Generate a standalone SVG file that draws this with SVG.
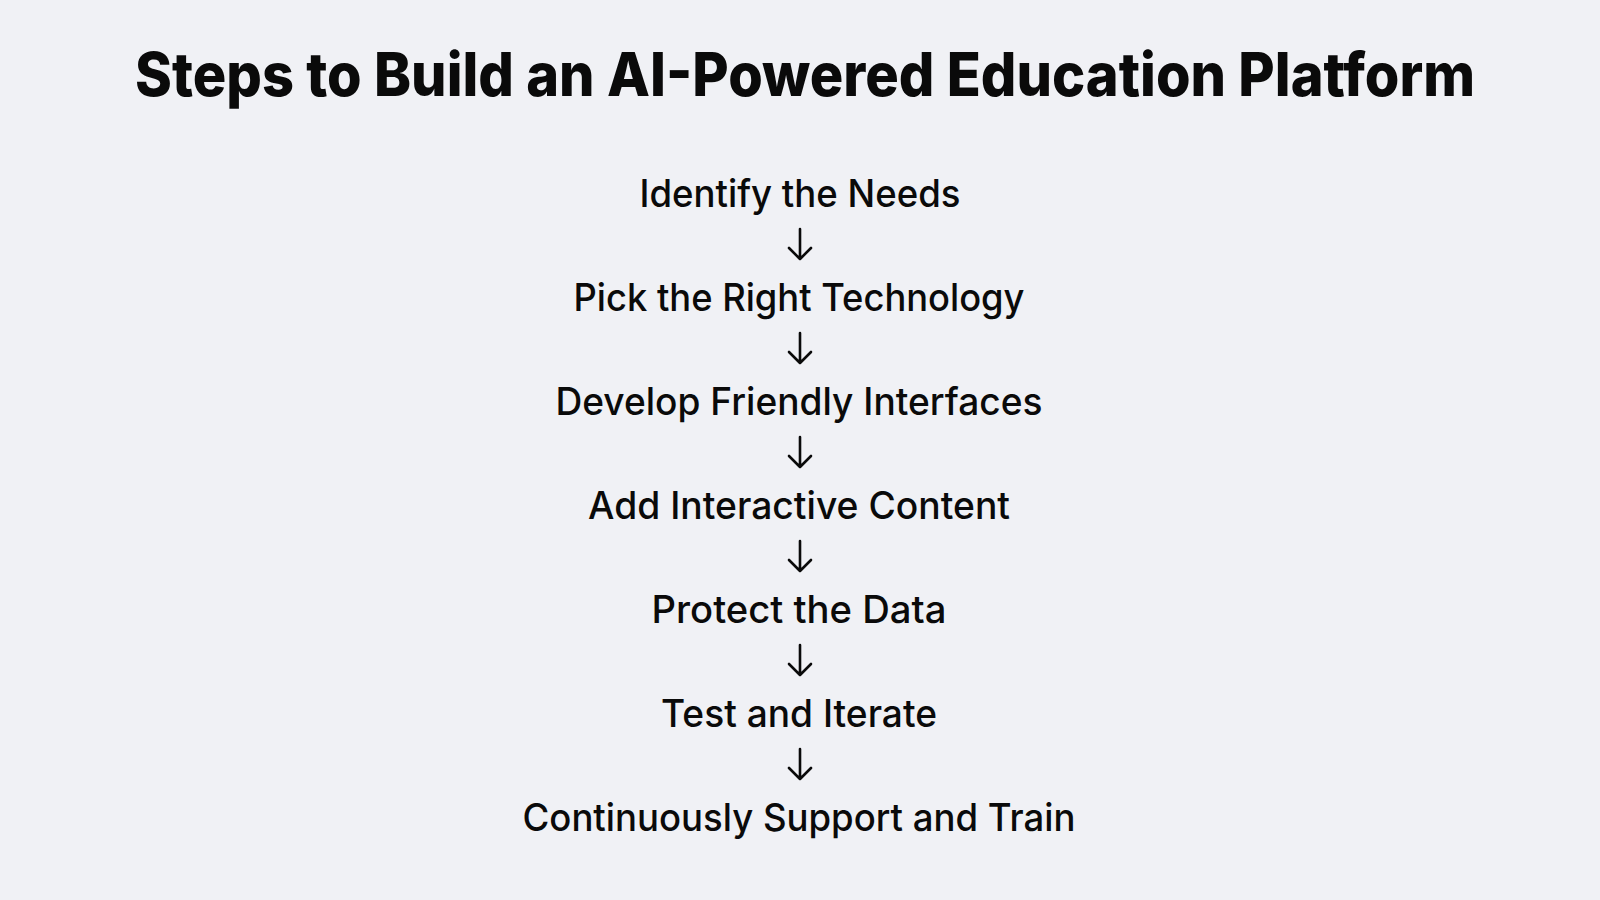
<svg xmlns="http://www.w3.org/2000/svg" width="1600" height="900" viewBox="0 0 1600 900">
  <defs>
    <style>
      .bg { fill: #F0F1F5; }
      .title { font-family: Inter, "Liberation Sans", sans-serif; font-weight: 800; font-size: 60px; fill: #0a0a0a; text-anchor: middle; }
      .step { font-family: Inter, "Liberation Sans", sans-serif; font-weight: 500; font-size: 38px; fill: #0a0a0a; text-anchor: middle; }
      .arrow { fill: none; stroke: #0a0a0a; stroke-width: 2.6; stroke-linecap: round; stroke-linejoin: round; }
    </style>
  </defs>
  <rect class="bg" x="0" y="0" width="1600" height="900"/>
  <g id="title">
    <text class="title" x="805" y="96" textLength="1340" lengthAdjust="spacingAndGlyphs">Steps to Build an AI-Powered Education Platform</text>
  </g>
  <g id="step1"><text class="step" x="800" y="207" textLength="321" lengthAdjust="spacingAndGlyphs">Identify the Needs</text></g>
  <g id="step2"><text class="step" x="799" y="311" textLength="451" lengthAdjust="spacingAndGlyphs">Pick the Right Technology</text></g>
  <g id="step3"><text class="step" x="799" y="415" textLength="487" lengthAdjust="spacingAndGlyphs">Develop Friendly Interfaces</text></g>
  <g id="step4"><text class="step" x="799" y="519" textLength="422" lengthAdjust="spacingAndGlyphs">Add Interactive Content</text></g>
  <g id="step5"><text class="step" x="799" y="623" textLength="295" lengthAdjust="spacingAndGlyphs">Protect the Data</text></g>
  <g id="step6"><text class="step" x="799" y="727" textLength="276" lengthAdjust="spacingAndGlyphs">Test and Iterate</text></g>
  <g id="step7"><text class="step" x="799" y="831" textLength="553" lengthAdjust="spacingAndGlyphs">Continuously Support and Train</text></g>
  <g id="connectors">
    <g transform="translate(0,0)"><path class="arrow" d="M800 229 V259 M789 248 L800 259 L811 248"/></g>
    <g transform="translate(0,104)"><path class="arrow" d="M800 229 V259 M789 248 L800 259 L811 248"/></g>
    <g transform="translate(0,208)"><path class="arrow" d="M800 229 V259 M789 248 L800 259 L811 248"/></g>
    <g transform="translate(0,312)"><path class="arrow" d="M800 229 V259 M789 248 L800 259 L811 248"/></g>
    <g transform="translate(0,416)"><path class="arrow" d="M800 229 V259 M789 248 L800 259 L811 248"/></g>
    <g transform="translate(0,520)"><path class="arrow" d="M800 229 V259 M789 248 L800 259 L811 248"/></g>
  </g>
</svg>
